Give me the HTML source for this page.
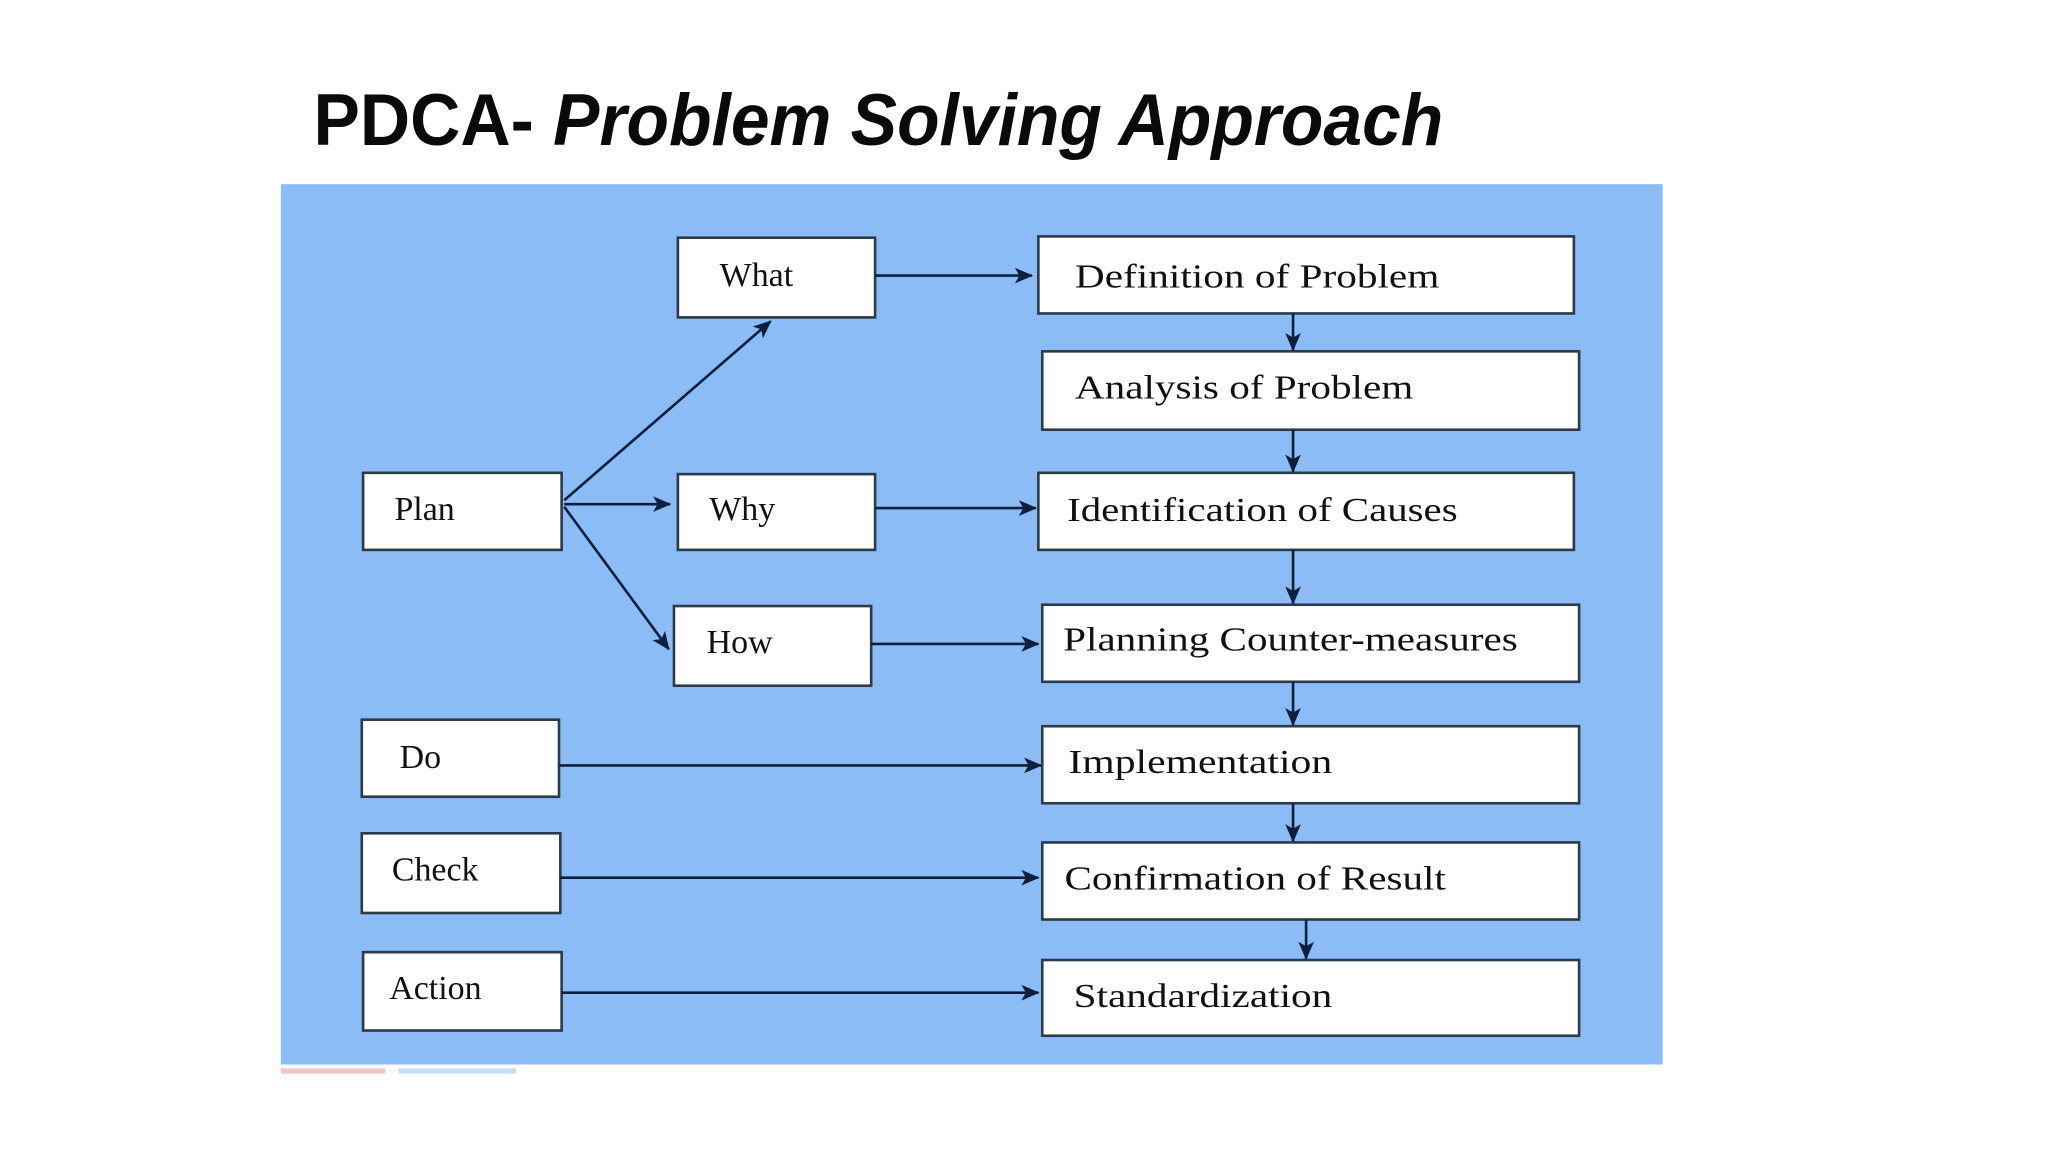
<!DOCTYPE html>
<html><head><meta charset="utf-8"><style>
html,body{margin:0;padding:0;background:#fff;}
svg{display:block;}
</style></head><body>
<svg width="2048" height="1152" viewBox="0 0 1568 882" xmlns="http://www.w3.org/2000/svg">
<defs>
<marker id="a" markerWidth="14" markerHeight="14" refX="13" refY="7" orient="auto" markerUnits="userSpaceOnUse">
<path d="M0,1 L14,7 L0,13 L3.5,7 Z" fill="#0d1f3c"/>
</marker>
</defs>
<rect width="1568" height="882" fill="#fff"/>
<text x="240" y="111" font-family="Liberation Sans, sans-serif" font-weight="bold" font-size="56" fill="#0a0a0a" textLength="865" lengthAdjust="spacingAndGlyphs">PDCA- <tspan font-style="italic">Problem Solving Approach</tspan></text>
<rect x="215" y="141" width="1058" height="674" fill="#8bbcf6"/>
<rect x="215" y="818" width="80" height="4" fill="#e8a0a0" opacity="0.6"/>
<rect x="305" y="818" width="90" height="4" fill="#a0c8f0" opacity="0.6"/>
<g fill="#fff" stroke="#2d3a4a" stroke-width="2">
<rect x="519" y="182" width="151" height="61"/>
<rect x="795" y="181" width="410" height="59"/>
<rect x="798" y="269" width="411" height="60"/>
<rect x="278" y="362" width="152" height="59"/>
<rect x="519" y="363" width="151" height="58"/>
<rect x="795" y="362" width="410" height="59"/>
<rect x="516" y="464" width="151" height="61"/>
<rect x="798" y="463" width="411" height="59"/>
<rect x="277" y="551" width="151" height="59"/>
<rect x="798" y="556" width="411" height="59"/>
<rect x="277" y="638" width="152" height="61"/>
<rect x="798" y="645" width="411" height="59"/>
<rect x="278" y="729" width="152" height="60"/>
<rect x="798" y="735" width="411" height="58"/>
</g>
<g stroke="#0d1f3c" stroke-width="2" fill="none" marker-end="url(#a)">
<line x1="670" y1="211" x2="790" y2="211"/>
<line x1="432" y1="383" x2="590" y2="246"/>
<line x1="432" y1="386" x2="513" y2="386"/>
<line x1="432" y1="388" x2="512" y2="497"/>
<line x1="670" y1="389" x2="793" y2="389"/>
<line x1="667" y1="493" x2="795" y2="493"/>
<line x1="428" y1="586" x2="797" y2="586"/>
<line x1="429" y1="672" x2="795" y2="672"/>
<line x1="430" y1="760" x2="795" y2="760"/>
<line x1="990" y1="240" x2="990" y2="268"/>
<line x1="990" y1="329" x2="990" y2="361"/>
<line x1="990" y1="421" x2="990" y2="462"/>
<line x1="990" y1="522" x2="990" y2="555"/>
<line x1="990" y1="615" x2="990" y2="644"/>
<line x1="1000" y1="704" x2="1000" y2="734"/>
</g>
<g font-family="Liberation Serif, serif" font-size="26" fill="#111">
<text x="551" y="219">What</text>
<text x="823" y="220" textLength="279" lengthAdjust="spacingAndGlyphs">Definition of Problem</text>
<text x="823" y="305" textLength="259" lengthAdjust="spacingAndGlyphs">Analysis of Problem</text>
<text x="302" y="398">Plan</text>
<text x="543" y="398">Why</text>
<text x="817" y="399" textLength="299" lengthAdjust="spacingAndGlyphs">Identification of Causes</text>
<text x="541" y="500">How</text>
<text x="814" y="498" textLength="348" lengthAdjust="spacingAndGlyphs">Planning Counter-measures</text>
<text x="306" y="588">Do</text>
<text x="818" y="592" textLength="202" lengthAdjust="spacingAndGlyphs">Implementation</text>
<text x="300" y="674">Check</text>
<text x="815" y="681" textLength="292" lengthAdjust="spacingAndGlyphs">Confirmation of Result</text>
<text x="298" y="765">Action</text>
<text x="822" y="771" textLength="198" lengthAdjust="spacingAndGlyphs">Standardization</text>
</g>
</svg>
</body></html>
